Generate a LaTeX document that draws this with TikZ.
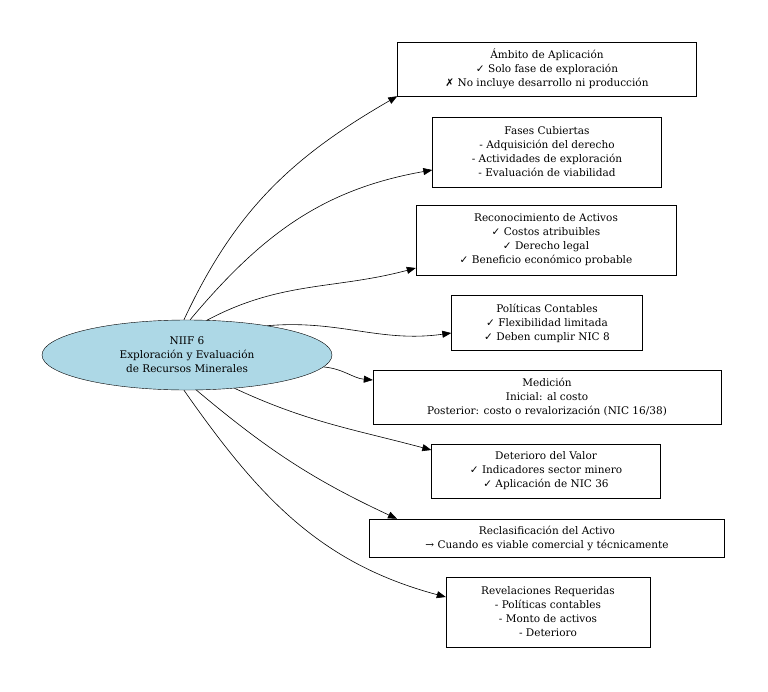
\documentclass[tikz,border=0pt]{standalone}
\usepackage{fontspec}
\setmainfont{DejaVu Serif}
\newfontfamily\symf{DejaVu Sans}
\usetikzlibrary{arrows.meta,shapes.geometric}
\newcommand{\ok}{{\symf ✓}}
\newcommand{\no}{{\symf ✗}}
\tikzset{
  caja/.style={draw, rectangle, align=center, inner sep=0pt, font=\fontsize{10.5}{14}\selectfont},
  flecha/.style={-{Triangle[length=9pt,width=7pt]}, line width=0.6pt}
}
\begin{document}
\begin{tikzpicture}[x=1pt,y=-1pt]
  \useasboundingbox (0,0) rectangle (768,691);

  \node[draw, ellipse, fill={rgb,255:red,173;green,216;blue,230}, minimum width=290, minimum height=70,
        align=center, inner sep=0pt, font=\fontsize{10.5}{14}\selectfont] (niif) at (187,355)
        {NIIF 6\\Exploración y Evaluación\\de Recursos Minerales};

  \node[caja, minimum width=299, minimum height=54] (ambito) at (547,69)
        {Ámbito de Aplicación\\\ok{} Solo fase de exploración\\\no{} No incluye desarrollo ni producción};
  \node[caja, minimum width=229, minimum height=70] (fases) at (547,152)
        {Fases Cubiertas\\- Adquisición del derecho\\- Actividades de exploración\\- Evaluación de viabilidad};
  \node[caja, minimum width=260, minimum height=70] (reconoc) at (546,240)
        {Reconocimiento de Activos\\\ok{} Costos atribuibles\\\ok{} Derecho legal\\\ok{} Beneficio económico probable};
  \node[caja, minimum width=191, minimum height=55] (politicas) at (547,323)
        {Políticas Contables\\\ok{} Flexibilidad limitada\\\ok{} Deben cumplir NIC 8};
  \node[caja, minimum width=348, minimum height=54] (medicion) at (547,397)
        {Medición\\Inicial: al costo\\Posterior: costo o revalorización (NIC 16/38)};
  \node[caja, minimum width=229, minimum height=54] (deterioro) at (546,471)
        {Deterioro del Valor\\\ok{} Indicadores sector minero\\\ok{} Aplicación de NIC 36};
  \node[caja, minimum width=355, minimum height=38] (reclasif) at (547,538)
        {Reclasificación del Activo\\→ Cuando es viable comercial y técnicamente};
  \node[caja, minimum width=204, minimum height=70] (revel) at (548,612)
        {Revelaciones Requeridas\\- Políticas contables\\- Monto de activos\\- Deterioro};

  \draw[flecha] (niif.95) to[out=65,in=210] (ambito.south west);
  \draw[flecha] (niif.85) to[out=50,in=190] ([yshift=-18]fases.west);
  \draw[flecha] (niif.60) to[out=28,in=195] ([yshift=-28]reconoc.west);
  \draw[flecha] (niif.20) to[out=5,in=188] ([yshift=-10]politicas.west);
  \draw[flecha] (niif.-5) to[out=-5,in=175] ([yshift=17]medicion.west);
  \draw[flecha] (niif.-35) to[out=-25,in=165] ([yshift=21]deterioro.west);
  \draw[flecha] (niif.-75) to[out=-40,in=155] ([xshift=-150]reclasif.north);
  \draw[flecha] (niif.-95) to[out=-55,in=165] ([yshift=15]revel.west);
\end{tikzpicture}
\end{document}
